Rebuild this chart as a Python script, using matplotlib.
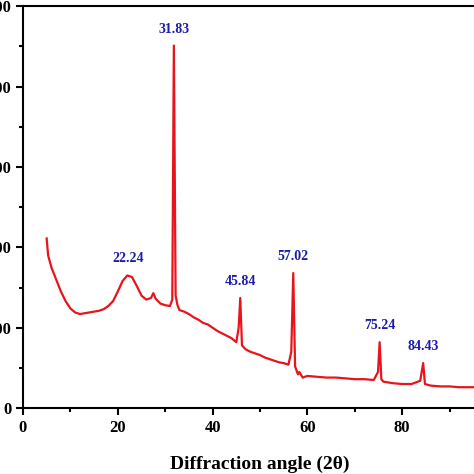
import matplotlib
matplotlib.use("Agg")
import matplotlib.pyplot as plt
from matplotlib.ticker import MultipleLocator

angle = [5,5.3,6,7,8,9,10,11,12,13,14,15,16,17,18,19,20,21,22,23,24,25,26,27,27.5,28,29,30,31,31.5,31.83,32.2,32.6,33,34,35,36,37,38,39,40,41,42,43,44,45,45.5,45.84,46.2,47,48,49,50,51,52,53,54,55,56,56.6,57.02,57.4,58,58.3,58.6,59,60,62,64,66,68,70,72,74,74.9,75.24,75.6,76,78,80,82,83.8,84.43,84.8,86,88,90,92,95]
intensity = [211,190,175,160,145,133,124,119,117,118,119,120,121,123,127,133,145,158,165,163,152,140,135,137,143,136,130,128,127,135,451,140,128,122,120,117,113,110,106,104,100,96,93,90,87,82,100,137,78,73,70,68,66,63,61,59,57,56,54,70,168,52,42,45,42,38,40,39,38,38,37,36,36,35,45,82,36,33,31,30,30,34,56,30,28,27,27,26,26]
peak_pos = [22.24,31.83,45.84,57.02,75.24,84.43]
peak_lab = ["22.24","31.83","45.84","57.02","75.24","84.43"]
peak_y = [178,463,150,181,95,69]

plt.rcParams['font.family'] = ['Liberation Serif','DejaVu Serif']
fig = plt.figure(figsize=(4.74,4.74), dpi=100)
ax = fig.add_axes([0.0485, 0.139, 1.0, 0.848])
ax.plot(angle, intensity, color='#e8141b', lw=1.6)
for x,y,t in zip(peak_pos, peak_y, peak_lab):
    ax.text(x, y, t, color='#1c1ca8', fontsize=10, fontweight='bold', ha='center', va='bottom')
ax.set_xlim(0,100)
ax.set_ylim(0,500)
ax.xaxis.set_major_locator(MultipleLocator(20))
ax.xaxis.set_minor_locator(MultipleLocator(10))
ax.yaxis.set_major_locator(MultipleLocator(100))
ax.yaxis.set_minor_locator(MultipleLocator(50))
ax.tick_params(which='both', direction='out', width=1.5)
ax.tick_params(which='major', length=5, labelsize=12)
ax.tick_params(which='minor', length=3)
for l in ax.get_xticklabels()+ax.get_yticklabels():
    l.set_fontweight('bold')
for s in ax.spines.values():
    s.set_linewidth(1.5)
ax.set_xlabel("Diffraction angle (2θ)", fontsize=14, fontweight='bold', labelpad=14)
fig.savefig("out.png", dpi=100)
